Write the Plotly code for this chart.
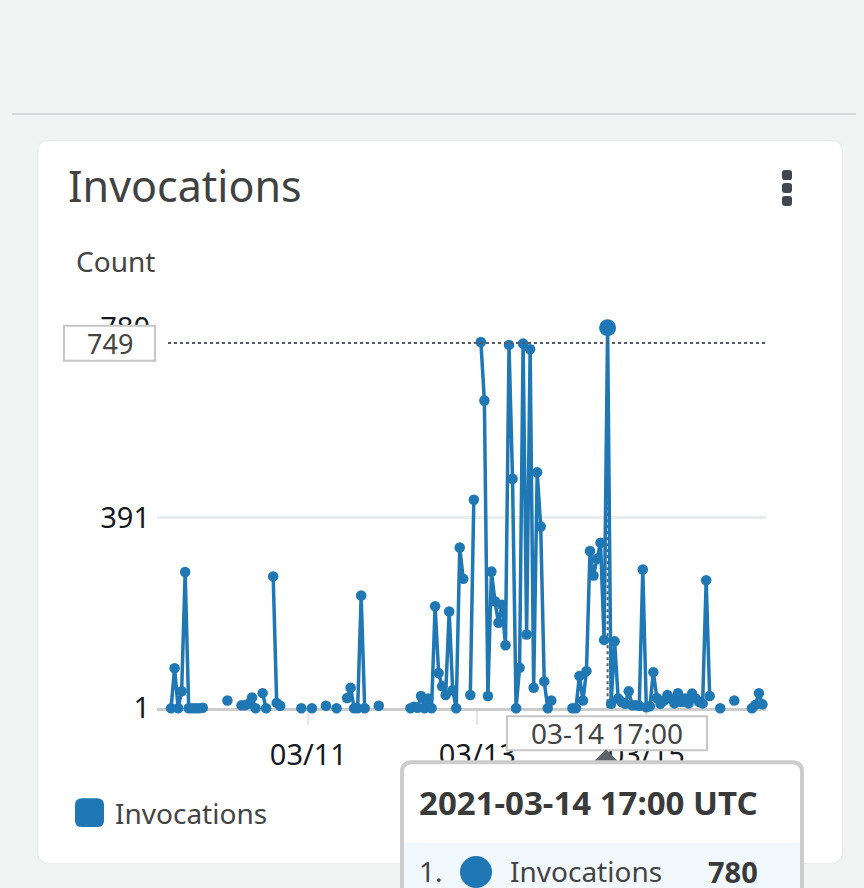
import pandas as pd
import plotly.graph_objects as go

W, H = 864, 900
OX, OY = 8, 29    # where the figure sits in the page
SY = 0.958        # vertical scale of the photographed page

# hours after 2021-03-11 00:00 (axis local time) and invocation counts
hours = [-39, -38, -37, -36, -35, -34, -33, -32, -31, -30,
         -23,
         -19, -18, -17, -16, -15,
         -13, -12,
         -10, -9, -8,
         -2, 1, 5, 8,
         11, 12, 13, 14, 15, 16,
         20,
         29, 30, 31, 32, 33, 34, 35, 36, 37, 38, 39, 40, 41, 42, 43, 44,
         46, 47,
         49, 50, 51, 52, 53, 54, 55, 56, 57, 58, 59, 60, 61, 62, 63, 64,
         65, 66, 67, 68, 69,
         75, 76, 77, 78, 79, 80, 81, 82, 83, 84, 85, 86, 87, 88, 89, 90,
         91, 92, 93, 94, 95, 96, 97, 98, 99, 100, 101, 102, 103, 104, 105,
         106, 107, 108, 109, 110, 111, 112, 113, 114,
         117, 121,
         126, 127, 128, 129]
counts = [1, 83, 1, 36, 280, 1, 1, 1, 1, 2,
          17,
          7, 7, 10, 23, 1,
          32, 1,
          271, 12, 6,
          1, 1, 6, 1,
          22, 43, 1, 1, 232, 1,
          6,
          1, 4, 2, 26, 1, 21, 1, 210, 73, 46, 28, 199, 38, 1, 330, 266,
          28, 428,
          751, 631, 26, 281, 220, 176, 213, 130, 745, 471, 1, 84, 748, 152,
          736, 43, 484, 373, 56, 1, 17,
          1, 1, 67, 17, 77, 323, 273, 307, 340, 141, 780, 10, 138, 21, 14,
          10, 36, 7, 7, 6, 285, 3, 5, 75, 22, 10, 17, 28, 21, 11, 32, 14,
          21, 11, 31, 21, 14, 11, 263, 26,
          1, 17,
          1, 8, 32, 9]

y_ticks = [1, 391, 780]
x_tick_dates = ["2021-03-11", "2021-03-13", "2021-03-15"]
x_tick_text = ["03/11", "03/13", "03/15"]
cursor_value = 749
hover_hour = 85
hover_label = "03-14 17:00"
hover_title = "2021-03-14 17:00 UTC"

BLUE = "#1f77b4"
base = pd.Timestamp("2021-03-11 00:00")

# full hourly grid so missing hours break the line
s = pd.Series(counts, index=hours).reindex(range(-43, 131))
times = [base + pd.Timedelta(hours=h) for h in s.index]
vals = [None if pd.isna(v) else v for v in s.values]


def px(x):
    return (x - OX) / W


def py(y):
    return 1 - (y / SY - OY) / H


def rrect(x0, y0, x1, y1, r):
    # rounded rectangle path in paper coords from a pixel box
    X0, X1, Y0, Y1 = px(x0), px(x1), py(y0), py(y1)
    rx, ry = r / W, r / H
    return (f"M{X0 + rx},{Y0} L{X1 - rx},{Y0} Q{X1},{Y0} {X1},{Y0 - ry} "
            f"L{X1},{Y1 + ry} Q{X1},{Y1} {X1 - rx},{Y1} L{X0 + rx},{Y1} "
            f"Q{X0},{Y1} {X0},{Y1 + ry} L{X0},{Y0 - ry} Q{X0},{Y0} {X0 + rx},{Y0} Z")


fig = go.Figure()
fig.add_trace(go.Scatter(
    x=times, y=vals, mode="lines+markers",
    line=dict(color=BLUE, width=3.5),
    marker=dict(color=BLUE, size=10.5),
    connectgaps=False, cliponaxis=False, showlegend=False))

hover_time = base + pd.Timedelta(hours=hover_hour)
hover_val = counts[hours.index(hover_hour)]
fig.add_trace(go.Scatter(
    x=[hover_time], y=[hover_val], mode="markers",
    marker=dict(color=BLUE, size=17), cliponaxis=False, showlegend=False))

shapes = []
# page rule and card
shapes.append(dict(type="line", xref="paper", yref="paper", x0=px(12), x1=1.0,
                   y0=py(113), y1=py(113), line=dict(color="#d5dbdb", width=2),
                   layer="below"))
shapes.append(dict(type="path", xref="paper", yref="paper", path=rrect(37, 139, 843, 864, 12),
                   fillcolor="#e9ebeb", line=dict(width=0), layer="below"))
shapes.append(dict(type="path", xref="paper", yref="paper", path=rrect(38, 140, 842, 863, 12),
                   fillcolor="white", line=dict(width=0), layer="below"))
# menu dots
for cy in (174, 187, 200):
    shapes.append(dict(type="path", xref="paper", yref="paper",
                       path=rrect(782, cy - 5, 792, cy + 5, 3),
                       fillcolor="#414750", line=dict(width=0)))
# crosshairs
shapes.append(dict(type="line", xref="paper", yref="y", x0=px(168), x1=px(766),
                   y0=cursor_value, y1=cursor_value,
                   line=dict(color="#545b64", width=2, dash="dot")))
shapes.append(dict(type="line", xref="x", yref="y", x0=hover_time, x1=hover_time,
                   y0=1, y1=780, line=dict(color="#545b64", width=2, dash="dot"),
                   layer="below"))
# y cursor box
shapes.append(dict(type="rect", xref="paper", yref="paper", x0=px(64), x1=px(155),
                   y0=py(325), y1=py(360), fillcolor="white",
                   line=dict(color="#c6c6c6", width=2)))
# x cursor box and pointer
shapes.append(dict(type="rect", xref="paper", yref="paper", x0=px(507), x1=px(707),
                   y0=py(716), y1=py(750), fillcolor="white",
                   line=dict(color="#c6c6c6", width=2)))
shapes.append(dict(type="path", xref="paper", yref="paper",
                   path=f"M{px(592)},{py(763)} L{px(606)},{py(749)} L{px(620)},{py(763)} Z",
                   fillcolor="#5f6368", line=dict(width=0)))
# tooltip
shapes.append(dict(type="path", xref="paper", yref="paper", path=rrect(402, 762, 802, 920, 10),
                   fillcolor="white", line=dict(color="#cccccc", width=4)))
shapes.append(dict(type="rect", xref="paper", yref="paper", x0=px(404), x1=px(800),
                   y0=py(843), y1=py(910), fillcolor="#f1f8fe", line=dict(width=0)))
shapes.append(dict(type="circle", xref="paper", yref="paper", x0=px(460), x1=px(492),
                   y0=py(856), y1=py(888), fillcolor=BLUE, line=dict(width=0)))
# legend swatch
shapes.append(dict(type="path", xref="paper", yref="paper", path=rrect(75, 798, 104, 827, 7),
                   fillcolor=BLUE, line=dict(width=0)))

FONT = "Noto Sans"
ann = []


def text(x, y, t, size, color="#444444", anchor="left", bold=False):
    ann.append(dict(xref="paper", yref="paper", x=px(x), y=py(y),
                    text=f"<b>{t}</b>" if bold else t,
                    showarrow=False, xanchor=anchor, yanchor="middle",
                    font=dict(family=FONT, size=size, color=color)))


text(66, 184, "Invocations", 43, "#414141")
text(74, 260, "Count", 28)
text(110, 343, str(cursor_value), 27, anchor="center")
text(607, 733, hover_label, 28, anchor="center")
text(113, 813, "Invocations", 28)
text(417, 802, hover_title, 33, "#3a3a3a", bold=True)
text(417, 871, "1.", 28)
text(508, 871, "Invocations", 28)
text(760, 871, str(hover_val), 29, "#3a3a3a", anchor="right", bold=True)

fig.update_layout(
    width=W, height=H, margin=dict(l=0, r=0, t=0, b=0),
    paper_bgcolor="#f2f3f3", plot_bgcolor="rgba(0,0,0,0)",
    shapes=shapes, annotations=ann, showlegend=False,
    font=dict(family=FONT),
    xaxis=dict(domain=[px(157), px(766)], type="date",
               range=[base + pd.Timedelta(hours=-43), base + pd.Timedelta(hours=130)],
               tickvals=x_tick_dates, ticktext=x_tick_text,
               showgrid=False, zeroline=False,
               showline=True, linecolor="#cccccc", linewidth=3,
               ticks="outside", ticklen=14, tickwidth=2, tickcolor="#e6e6e6",
               ticklabelstandoff=5,
               tickfont=dict(family=FONT, size=29, color="#16191f"),
               layer="below traces"),
    yaxis=dict(domain=[py(708), py(327)], range=[1, 780],
               tickvals=y_ticks, ticktext=[str(v) for v in y_ticks],
               showgrid=True, gridcolor="#eaeded", gridwidth=3,
               zeroline=False, showline=False, ticks="",
               ticklabelstandoff=6,
               tickfont=dict(family=FONT, size=29, color="#16191f"),
               layer="below traces"),
)

fig.write_html("out.html", post_script="document.body.style.background='#f2f3f3';")
